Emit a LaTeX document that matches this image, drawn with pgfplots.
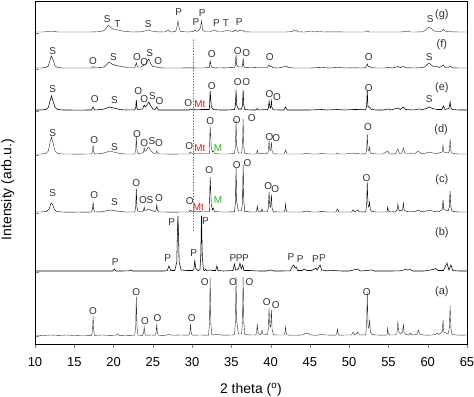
\documentclass[border=0pt]{standalone}
\usepackage{pgfplots}
\pgfplotsset{compat=1.18}
\usepackage{fontspec}
\setmainfont{Liberation Sans}
\definecolor{tr}{HTML}{303030}
\definecolor{mtred}{HTML}{E8141C}
\definecolor{mgreen}{HTML}{22B422}
\tikzset{lab/.style={font=\fontsize{10}{12}\selectfont, text=tr, inner sep=0pt}}
\begin{document}
\begin{tikzpicture}
\begin{axis}[
  scale only axis, width=432bp, height=343bp,
  xmin=10, xmax=65, ymin=0, ymax=343,
  xtick={10,15,...,65},
  ytick={8,72,131,189,233,275,311}, yticklabels={},
  xtick pos=bottom, ytick pos=left,
  tick align=outside, major tick length=4bp,
  ytick style={xshift=4bp},
  /pgf/number format/assume math mode=true,
  tick label style={font=\fontsize{13}{15}\selectfont},
  xticklabel style={yshift=-6bp},
  xlabel={2 theta (\textsuperscript{o})},
  xlabel style={font=\fontsize{14}{16}\selectfont, at={(axis description cs:0.5,-0.145)}, anchor=base},
  ylabel={Intensity (arb.u.)},
  ylabel style={font=\fontsize{14}{16}\selectfont, at={(axis description cs:-0.063,0.45)}, anchor=center, rotate=0},
  axis line style={line width=0.6pt},
  cycle list={{tr, line width=0.55pt, mark=none}},
  clip=false,
]
% (a) baseline 8
\addplot table[header=false, x index=0, y expr=\thisrowno{1}+8] {
10 1
11 0.5
12 1
13 0.6
14 1
15 0.5
16 0.8
17.2 0.6
17.32 5
17.4 20
17.48 5
17.6 0.6
18.5 1
19.5 0.6
20.3 0.8
20.5 2
20.7 0.7
21.5 0.5
22.7 0.8
22.82 10
22.9 39
22.98 10
23.1 0.8
23.7 0.6
23.82 3
23.9 9
23.98 3
24.1 0.7
24.8 1
25.3 0.8
25.42 3.5
25.5 12
25.58 3.5
25.7 0.8
26.5 0.5
27.0 1.5
27.6 0.7
28.5 1
29.6 0.8
29.72 3.5
29.8 12
29.88 3.5
30 0.8
31 1
32.1 0.8
32.22 14
32.3 58
32.38 14
32.5 1
33.2 1.5
34 0.8
35.0 1
35.4 1.2
35.52 15
35.6 59
35.68 15
35.9 2
36.3 2
36.42 15
36.5 59
36.58 15
36.7 1.5
37.5 1
38.1 1
38.22 4
38.3 12
38.38 4
38.6 1
38.8 2
38.9 6
39.0 2
39.6 1.5
39.72 8
39.8 28
39.9 10
40.0 9
40.1 26
40.18 7
40.35 1.2
41.0 1
41.7 1
41.82 3
41.9 9
41.98 3
42.1 1
43 0.7
44 1
44.6 3
45.2 1
46 0.7
46.5 2
47 1
48.3 0.8
48.42 2.5
48.5 7
48.58 2.5
48.7 0.8
49.5 1
50.3 1
50.5 4
50.7 1
51.1 4
51.3 1
52.1 1.2
52.22 12
52.3 44
52.4 10
52.5 8
52.6 16
52.7 4
52.9 1.5
53.5 1
54.2 0.8
54.82 1
54.9 8
54.98 2.5
55.2 1
55.8 1
56.05 2
56.12 5
56.2 15
56.28 5
56.5 2
56.8 4
56.9 12
56.98 4
57.2 1.5
57.6 1
57.8 3
58.0 1
58.6 1.5
58.8 6
59.0 1.5
59.8 0.8
60.5 1
61.0 1.5
61.2 3
61.4 1.5
61.85 4
61.95 16
62.05 4
62.6 2
62.75 8
62.85 30
62.95 8
63.1 1.5
64 0.8
65 1
};
% (b) baseline 72
\addplot table[header=false, x index=0, y expr=\thisrowno{1}+72] {
10 1
11 1
12 1
13 1
14 1
15 1
16 1
17 1
18 1
19 1
19.9 1
20.1 3
20.3 1
21.2 1
22.0 1.2
22.2 2
22.4 1
23.5 1
24.5 1
25.5 1
26.5 1
26.85 1.5
26.95 4
27.05 6
27.15 4
27.3 1.5
27.8 1.5
28.05 10
28.15 45
28.2 56
28.25 45
28.35 10
28.6 2
29.3 1.5
30.1 1.5
30.25 4
30.35 12
30.45 4
30.7 1.5
31.0 2
31.1 15
31.2 56
31.3 15
31.45 2
31.6 1.5
31.7 3
31.85 1.5
32.3 2
32.6 1.5
33.0 1.5
33.15 6
33.3 1.5
34 1
35.2 1.5
35.4 8
35.55 2
35.9 3
36.1 9
36.25 3
36.45 7
36.6 1.5
37.3 1.5
38.5 1
39.5 1
40.0 2
40.4 1
41.5 1
42.5 1.2
42.8 6
42.95 7
43.1 4
43.25 5
43.45 1.5
44.0 1.5
44.3 3
44.6 1.5
45.2 1.5
45.6 3
45.75 4
45.9 2
46.3 7
46.5 2
47.2 1.2
48.0 1.5
49 1
50 1
51.1 3
51.4 1
52.9 2
53.2 1
54.2 1
55.5 1
56.5 1.2
57.2 2.5
57.45 2
57.8 2.5
58.1 1
59.5 1
60.7 2.5
61.0 3.5
61.3 1.5
62.0 1.5
62.45 9
62.7 2
62.95 7
63.2 1.5
64 1
65 1
};
% (c) baseline 131
\addplot table[header=false, x index=0, y expr=\thisrowno{1}+131] {
10 1
10.8 1
11.5 1.5
11.8 4
12.0 9
12.1 10
12.25 8
12.5 3
12.8 1.5
13.5 1
14.5 0.8
15.5 1
16.5 0.8
17.2 1
17.32 3.5
17.4 11
17.48 3.5
17.6 1
18.5 1.2
19.0 2
19.5 3
20.0 2.5
20.8 1.5
21.5 1
22.7 1
22.82 6
22.9 24
22.98 6
23.1 1.5
23.7 1.5
23.82 2.5
23.9 6
24.0 2.5
24.2 3
24.5 4
24.8 2.5
25.3 1.5
25.42 3
25.5 8
25.58 3
25.75 1
26.5 1
27.5 0.8
28.5 1
29.6 1
29.8 3
29.95 1.5
30.2 2
30.5 1
31.2 1.5
32.2 1.5
32.3 36
32.45 8
32.6 3
32.7 5
32.85 1.5
33.5 1
34.5 1
35.4 1.2
35.52 11
35.6 45
35.68 11
35.9 2
36.3 2
36.42 12
36.5 48
36.58 12
36.7 1.5
37.5 1
38.1 1
38.22 2.5
38.3 7
38.38 2.5
38.6 1
38.8 1.5
38.9 4
39.0 1.5
39.6 1.5
39.72 6
39.8 21
39.9 7
40.0 6
40.1 18
40.18 5
40.35 1.2
41.0 1
41.7 1
41.82 3
41.9 9
41.98 3
42.1 1
43 1
44 1
44.6 2
45.2 1
46 1
46.5 1.5
47.2 1
48.3 1
48.5 4
48.7 1
49.5 1
50.3 1
50.5 3
50.7 1
51.1 3
51.3 1
52.1 1.2
52.22 8
52.3 31
52.4 8
52.5 6
52.6 11
52.7 3
52.9 1.5
53.5 1
54.3 1
54.82 1
54.9 6
55.0 2
55.3 1
55.9 1.2
56.1 3
56.2 9
56.3 3
56.6 2
56.8 3
56.9 10
57.0 3
57.3 1.5
57.8 2
58.3 1
58.8 3
59.2 1.2
59.8 2
60.2 3
60.6 2
61.0 1.5
61.2 2
61.5 1.5
61.85 3.5
61.95 13
62.05 3.5
62.6 2
62.75 6
62.85 22
62.95 6
63.1 1.5
64 1
65 1
};
% (d) baseline 189
\addplot table[header=false, x index=0, y expr=\thisrowno{1}+189] {
10 1
10.8 1
11.4 1.5
11.7 4
11.95 14
12.1 18
12.3 12
12.55 4
12.9 1.5
13.5 1
14.5 1
15.5 0.8
16.5 1
17.2 1
17.32 3
17.4 10
17.48 3
17.6 1
18.5 1.5
19.0 2.5
19.5 4
20.0 3
20.8 1.5
21.5 1
22.7 1
22.82 5
22.9 19
22.98 5
23.1 1.5
23.7 2
23.82 3
23.9 7
24.0 3.5
24.2 5
24.45 8
24.7 5
25.0 2
25.3 1.5
25.42 2
25.5 4
25.6 2
25.8 1
26.5 1
27.5 0.8
28.5 1
29.6 1
29.8 3
29.95 1.5
30.2 2
30.5 1
31.2 1.5
32.2 1.5
32.3 29
32.45 7
32.6 3
32.7 4
32.85 1.5
33.5 1
34.5 1
35.4 1.5
35.52 9
35.6 34
35.68 9
35.9 2
36.3 2
36.42 9
36.5 36
36.58 9
36.7 1.5
37.5 1
38.1 1
38.22 2
38.3 5
38.38 2
38.6 1
38.9 2
39.1 1
39.6 1.5
39.72 4
39.8 15
39.9 5
40.0 4.5
40.1 13
40.18 4
40.35 1.2
41.0 1
41.7 1
41.9 5
42.1 1
43 1
44 1
44.6 1.5
45.2 1
46 1
46.5 1.5
47.2 1
48.3 1
48.5 2
48.7 1
49.5 1
50.5 2
50.8 1
51.1 2
51.3 1
52.1 1.2
52.22 5
52.3 21
52.4 5
52.5 4
52.6 8
52.7 2
52.9 1.5
53.5 1
54.3 1
54.9 4
55.1 1
55.9 1.2
56.2 6
56.4 1.5
56.7 2
56.9 7
57.1 1.5
57.8 1.5
58.3 1
58.8 4
59.2 1.2
59.8 2
60.2 3
60.6 2
61.2 1.5
61.85 3
61.95 10
62.05 3
62.6 2
62.75 4
62.85 16
62.95 4
63.1 1.5
64 1
65 1
};
% (e) baseline 233
\addplot table[header=false, x index=0, y expr=\thisrowno{1}+233] {
10 1
10.8 1
11.4 1.5
11.7 3.5
11.95 11
12.1 15
12.3 10
12.55 3.5
12.9 1.5
13.5 1
14.5 1
15.5 0.8
16.5 1
17.2 1
17.4 4
17.6 1
18.5 1.5
19.0 2.5
19.5 4
20.0 3
20.8 1.5
21.5 1
22.7 1.2
22.82 3
22.9 11
22.98 3
23.1 1.5
23.7 2
23.9 6
24.05 4
24.25 6
24.5 9
24.75 5
25.0 2
25.3 1.5
25.5 4
25.7 1
26.5 1
27.5 1
28.5 1
29.6 1
29.8 2
30.0 1.5
30.2 2
30.5 1
31.2 1.5
32.2 1.5
32.3 20
32.45 4
32.7 1.5
33.5 1
34.5 1
35.4 1.5
35.52 6
35.6 21
35.68 6
35.9 2
36.3 2
36.42 6
36.5 21
36.58 6
36.7 1.5
37.5 1
38.1 1
38.3 2.5
38.5 1
39.6 1.5
39.72 3
39.8 10
39.9 4
40.0 3
40.1 10
40.18 3
40.35 1.2
41.0 1
41.7 1
41.9 4
42.1 1
43 1
44 1
45 1
46.5 1.5
47.2 1
48.5 1.5
49.5 1
50.5 1.5
51.1 1.5
52.1 1.2
52.22 5
52.3 20
52.4 4
52.6 4
52.8 1.5
53.5 1
54.3 1
55.0 2
55.3 1
56.2 3
56.5 1.5
56.9 4
57.2 1.5
58.3 1
58.8 2
59.4 1.5
59.8 2.5
60.2 4
60.6 2.5
61.2 1.5
61.8 1.5
62.0 5
62.2 1.5
62.7 2.5
62.85 9
62.95 3
63.1 1.5
64 1
65 1
};
% (f) baseline 275
\addplot table[header=false, x index=0, y expr=\thisrowno{1}+275] {
10 1
10.8 1
11.4 1.5
11.7 3
11.95 10
12.1 13
12.3 9
12.55 3
12.9 1.5
13.5 1
14.5 1
15.5 1
16.5 1
17.2 1
17.4 2.5
17.6 1
18.5 1.5
19.0 3
19.4 7
19.8 5
20.3 3.5
21.0 2.5
21.8 1.5
22.7 1.5
22.9 6
23.05 2
23.5 2
23.9 4
24.1 5
24.3 8
24.5 10
24.75 5
25.0 2.5
25.5 2
25.8 1.2
26.5 1
27.5 1
28.5 1
29.8 1.2
30.6 1
31.5 1
32.2 1.5
32.3 8
32.45 2
32.7 1.2
33.5 1
34.5 1.2
35.4 1.5
35.52 4
35.6 14
35.68 4
35.9 2
36.3 2
36.42 3
36.5 11
36.58 3
36.7 1.5
37.5 1.2
38.3 1.5
39.6 1.5
39.8 4
39.95 2.5
40.1 3
40.3 1.2
41.0 1
41.6 2
41.9 3
42.3 1.5
43 1
44 1
45 1
46.5 1.5
47.5 1
48.5 1.5
49.5 1
50.5 1.2
51.5 1
52.1 1.2
52.3 5
52.45 2
52.6 2.5
52.8 1.2
53.5 1
54.5 1
55.0 1.5
55.5 1
56.2 2.5
56.5 1.2
56.9 2.5
57.2 1.2
58.3 1
59.0 1.2
59.6 2
59.95 4.5
60.2 6
60.45 4
60.8 2
61.2 2.5
61.5 1.5
62.0 4
62.2 1.5
62.6 1.5
62.9 3
63.1 1.2
64 1
65 1
};
% (g) baseline 311
\addplot table[header=false, x index=0, y expr=\thisrowno{1}+311] {
10 1
11 1
11.8 1.5
12.1 2
12.4 1.5
13 1
14 1
15 1
16 1
17 1
17.8 1.2
18.5 1.5
18.9 3
19.15 6
19.35 8
19.6 6
19.9 4
20.3 3.5
20.8 2.5
21.5 1.5
22.5 1
23.5 1.2
24.0 2
24.4 3
24.8 2
25.5 1.2
26.5 1
27.0 3
27.2 1
27.9 1.5
28.05 5
28.2 12
28.35 5
28.5 1.5
29.5 1
30.2 1.5
30.4 3
30.6 1.5
30.9 3
31.05 5
31.2 12
31.35 3
31.6 1.5
32.3 1.5
33.0 3
33.2 1.5
33.9 1.5
34.4 2.5
34.8 2
35.3 1.5
35.5 3
35.8 1.5
36.1 3
36.3 2
36.5 2.5
36.7 1.2
37.5 1
38.5 1
39.8 1
41 1
42 1
42.8 1.5
43.0 3
43.15 2
43.3 2.5
43.5 1.2
44.3 1
45.2 2
45.6 1
46.3 2
46.6 1
48 1.2
49.5 1
51 1
52.0 1
52.3 2
52.6 1
53.5 1
54.5 1
55.5 1
56.5 1
57.3 1.5
57.5 2
57.8 1
58.5 1
59.3 1.2
59.7 2.5
60.0 5
60.2 6
60.45 4.5
60.8 2
61.5 1.2
61.8 2
62.0 4
62.2 2
62.5 1.5
62.7 2
63.0 1.2
64 1
65 1
};
% red dotted marker line
\draw[draw=mtred, line width=1.3pt, line cap=round, dash pattern=on 0.2pt off 2.6pt] (axis cs:30.2,114) -- (axis cs:30.2,304);
% labels (g)
\node[lab] at (axis cs:19.2,325) {S};
\node[lab] at (axis cs:20.5,320) {T};
\node[lab] at (axis cs:24.4,320) {S};
\node[lab] at (axis cs:28.3,332) {P};
\node[lab] at (axis cs:30.5,322) {P};
\node[lab] at (axis cs:31.3,331) {P};
\node[lab] at (axis cs:33.1,321) {P};
\node[lab] at (axis cs:34.3,321) {T};
\node[lab] at (axis cs:36.0,322) {P};
\node[lab] at (axis cs:60.3,325) {S};
\node[lab, font=\fontsize{11}{13}\selectfont] at (axis cs:61.8,329) {(g)};
% (f)
\node[lab] at (axis cs:12.25,293) {S};
\node[lab] at (axis cs:17.4,283) {O};
\node[lab] at (axis cs:20.0,287) {S};
\node[lab] at (axis cs:23.0,287) {O};
\node[lab] at (axis cs:23.9,282) {O};
\node[lab] at (axis cs:24.6,291) {S};
\node[lab] at (axis cs:25.7,283) {O};
\node[lab] at (axis cs:32.5,290) {O};
\node[lab] at (axis cs:35.8,293) {O};
\node[lab] at (axis cs:36.9,291) {O};
\node[lab] at (axis cs:39.9,287) {O};
\node[lab] at (axis cs:52.5,287) {O};
\node[lab] at (axis cs:60.2,287) {S};
\node[lab, font=\fontsize{11}{13}\selectfont] at (axis cs:61.8,299) {(f)};
% (e)
\node[lab] at (axis cs:12.25,255) {S};
\node[lab] at (axis cs:17.6,245) {O};
\node[lab] at (axis cs:20.1,244) {S};
\node[lab] at (axis cs:23.15,253) {O};
\node[lab] at (axis cs:23.9,245) {O};
\node[lab] at (axis cs:24.95,248) {S};
\node[lab] at (axis cs:25.85,243) {O};
\node[lab] at (axis cs:29.5,241) {O};
\node[lab, text=mtred] at (axis cs:31.0,240) {Mt};
\node[lab] at (axis cs:32.5,258) {O};
\node[lab] at (axis cs:35.8,262) {O};
\node[lab] at (axis cs:36.9,262) {O};
\node[lab] at (axis cs:39.85,250) {O};
\node[lab] at (axis cs:40.8,247) {O};
\node[lab] at (axis cs:52.5,256) {O};
\node[lab] at (axis cs:60.2,245) {S};
\node[lab, font=\fontsize{11}{13}\selectfont] at (axis cs:61.8,256) {(e)};
% (d)
\node[lab] at (axis cs:12.25,211) {S};
\node[lab] at (axis cs:17.55,204) {O};
\node[lab] at (axis cs:20.1,197) {S};
\node[lab] at (axis cs:23.0,210) {O};
\node[lab] at (axis cs:23.9,201) {O};
\node[lab] at (axis cs:24.9,203) {S};
\node[lab] at (axis cs:25.8,201) {O};
\node[lab] at (axis cs:29.65,198) {O};
\node[lab, text=mtred] at (axis cs:31.0,196) {Mt};
\node[lab, text=mgreen] at (axis cs:33.3,196) {M};
\node[lab] at (axis cs:32.3,223) {O};
\node[lab] at (axis cs:35.7,224) {O};
\node[lab] at (axis cs:37.6,226) {O};
\node[lab] at (axis cs:39.85,207) {O};
\node[lab] at (axis cs:40.7,206) {O};
\node[lab] at (axis cs:52.4,217) {O};
\node[lab, font=\fontsize{11}{13}\selectfont] at (axis cs:61.7,214) {(d)};
% (c)
\node[lab] at (axis cs:12.25,151) {S};
\node[lab] at (axis cs:17.55,149) {O};
\node[lab] at (axis cs:20.1,142) {S};
\node[lab] at (axis cs:22.9,161) {O};
\node[lab] at (axis cs:23.75,144) {O};
\node[lab] at (axis cs:24.65,144) {S};
\node[lab] at (axis cs:25.8,146) {O};
\node[lab] at (axis cs:29.7,143) {O};
\node[lab, text=mtred] at (axis cs:30.8,137) {Mt};
\node[lab] at (axis cs:32.2,174) {O};
\node[lab, text=mgreen] at (axis cs:33.3,144) {M};
\node[lab] at (axis cs:35.7,179) {O};
\node[lab] at (axis cs:37.05,181) {O};
\node[lab] at (axis cs:39.7,158) {O};
\node[lab] at (axis cs:40.6,155) {O};
\node[lab] at (axis cs:52.2,166) {O};
\node[lab, font=\fontsize{11}{13}\selectfont] at (axis cs:61.8,164) {(c)};
% (b)
\node[lab] at (axis cs:20.2,82) {P};
\node[lab] at (axis cs:26.9,86) {P};
\node[lab] at (axis cs:27.4,122) {P};
\node[lab] at (axis cs:30.2,91) {P};
\node[lab] at (axis cs:31.7,123) {P};
\node[lab] at (axis cs:35.2,86) {P};
\node[lab] at (axis cs:36.0,86) {P};
\node[lab] at (axis cs:36.8,86) {P};
\node[lab] at (axis cs:42.6,87) {P};
\node[lab] at (axis cs:43.75,85) {P};
\node[lab] at (axis cs:45.7,85) {P};
\node[lab] at (axis cs:46.6,86) {P};
\node[lab, font=\fontsize{11}{13}\selectfont] at (axis cs:61.8,111) {(b)};
% (a)
\node[lab] at (axis cs:17.4,33) {O};
\node[lab] at (axis cs:22.9,52) {O};
\node[lab] at (axis cs:24.0,23) {O};
\node[lab] at (axis cs:25.6,26) {O};
\node[lab] at (axis cs:29.95,26) {O};
\node[lab] at (axis cs:31.6,62) {O};
\node[lab] at (axis cs:35.2,62) {O};
\node[lab] at (axis cs:37.3,62) {O};
\node[lab] at (axis cs:39.5,42) {O};
\node[lab] at (axis cs:40.65,39) {O};
\node[lab] at (axis cs:52.25,52) {O};
\node[lab, font=\fontsize{11}{13}\selectfont] at (axis cs:61.8,52) {(a)};
\end{axis}
\pgfresetboundingbox
\useasboundingbox (-35bp,-53bp) rectangle (439bp,344bp);
\end{tikzpicture}
\end{document}
